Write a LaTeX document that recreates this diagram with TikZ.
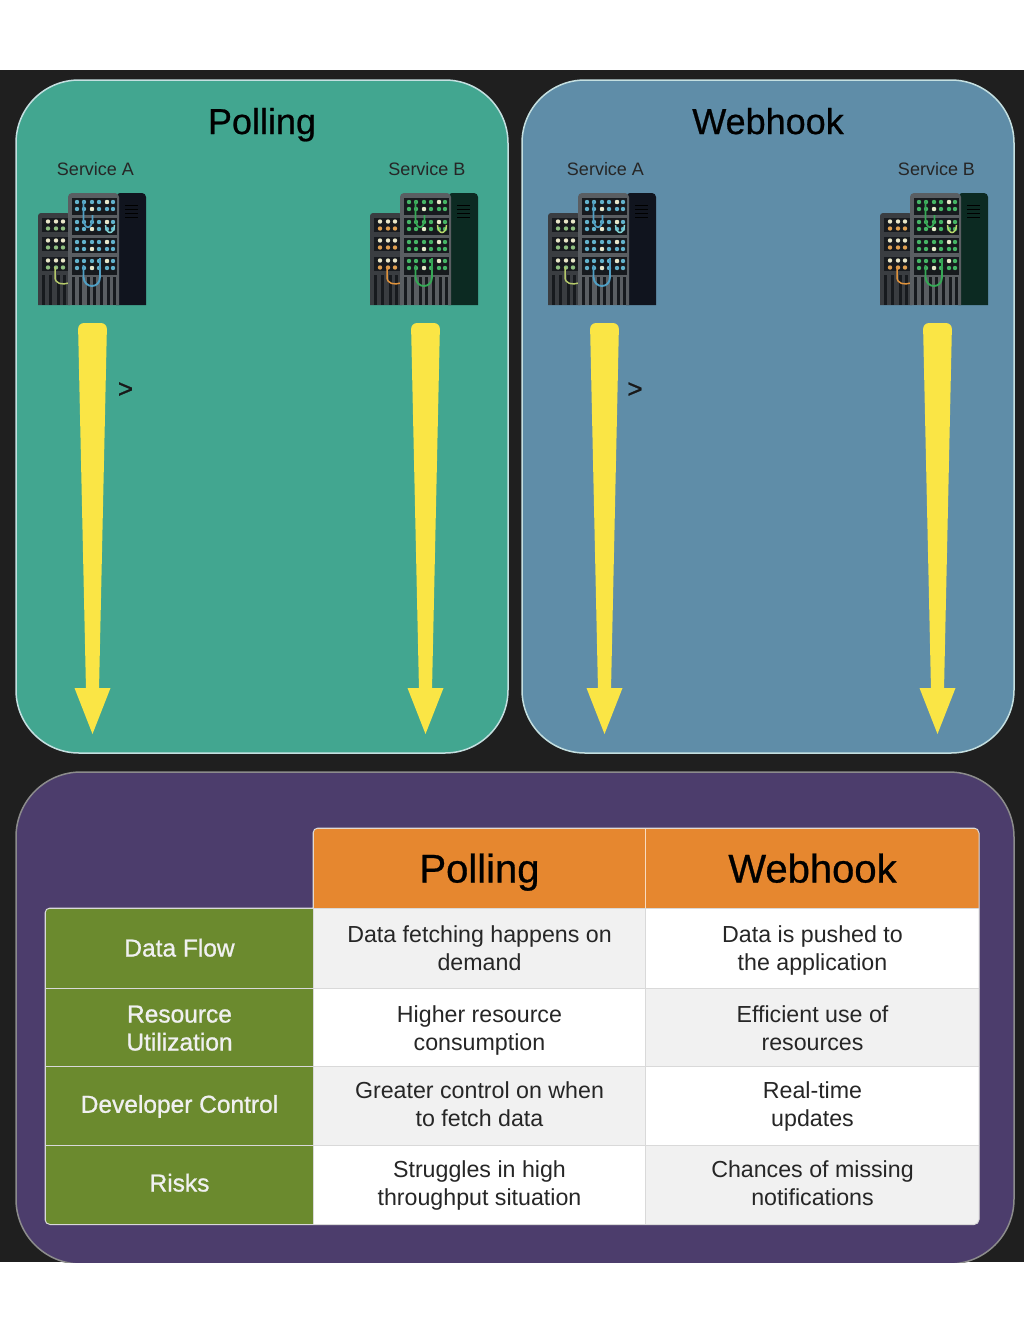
\documentclass[tikz,border=0pt]{standalone}
\usepackage{fontspec}
\setmainfont{Liberation Sans}
\newfontfamily\semibold[FakeBold=1]{Liberation Sans}
\newfontfamily\titleweight[FakeBold=0.7]{Liberation Sans}
\definecolor{bgdark}{HTML}{1F1F1F}
\definecolor{teal1}{HTML}{42A690}
\definecolor{blue1}{HTML}{5F8DA8}
\definecolor{purple1}{HTML}{4C3D6C}
\definecolor{orange1}{HTML}{E6872F}
\definecolor{green1}{HTML}{6B8A2E}
\definecolor{yellow1}{HTML}{FAE545}
\definecolor{cellgray}{HTML}{F1F1F1}
\definecolor{panelline}{HTML}{C4DFE0}
\definecolor{rackmid}{HTML}{5A5E62}
\definecolor{rackleft}{HTML}{3A3D41}
\definecolor{rackslot}{HTML}{171A1E}
\definecolor{ledA}{HTML}{62B2CC}
\definecolor{cableA}{HTML}{4F9FC4}
\definecolor{smallA}{HTML}{7FD0D0}
\definecolor{leftcA}{HTML}{B5C96A}
\definecolor{leftlA}{HTML}{8FBF80}
\definecolor{cabA}{HTML}{10141E}
\definecolor{ledB}{HTML}{45B565}
\definecolor{cableB}{HTML}{35A855}
\definecolor{smallB}{HTML}{B5D66A}
\definecolor{leftcB}{HTML}{E0923C}
\definecolor{leftlB}{HTML}{E0A050}
\definecolor{cabB}{HTML}{0C2A22}
\definecolor{cream}{HTML}{E8E6C8}
\tikzset{
  panel/.style={draw=panelline,line width=1.5pt,rounded corners=63pt},
  bottompanel/.style={draw=black!45,line width=1.5pt,rounded corners=65pt,fill=purple1},
  yarrow/.style={fill=yellow1,draw=none},
  svclabel/.style={font=\fontsize{18}{20}\selectfont,text=black!85,inner sep=0pt,text height=13pt,text depth=0pt},
  paneltitle/.style={font=\fontsize{36}{38}\selectfont\titleweight,text=black,inner sep=0pt,text height=32pt,text depth=8pt},
  gt/.style={font=\fontsize{26}{28}\selectfont\semibold,text=black!90,inner sep=0pt},
  headcell/.style={fill=orange1,draw=white!70!orange1,line width=1pt,minimum height=80pt,inner sep=0pt,font=\fontsize{40}{42}\selectfont\titleweight,text=black,text height=36pt,text depth=8pt},
  rowhead/.style={fill=green1,draw=white!85!black,line width=1pt,minimum width=268pt,inner sep=0pt,align=center,font=\fontsize{24.5}{28}\selectfont\semibold,text=white!94!black},
  cell/.style={draw=black!15,line width=1pt,inner sep=0pt,align=center,font=\fontsize{23.2}{28}\selectfont,text=black!85},
  outline/.style={draw=white!85!black,line width=1pt,rounded corners=5pt},
  pics/server/.style n args={6}{code={
    \fill[#6,rounded corners=4pt] (78,112) -- (78,0) -- (108,0) -- (108,112);
    \foreach \yy in {12,16,20,24}{\draw[black,line width=.8pt] (87,\yy) -- (100,\yy);}
    \fill[rackleft,rounded corners=3pt] (0,112) -- (0,20) -- (32,20) -- (32,112);
    \foreach \yy in {25,44,64}{
      \fill[rackslot] (4,\yy) rectangle (31,\yy+14);
      \foreach \xx in {10,18,25}{
        \fill[cream] (\xx,\yy+3.5) circle (2.2pt);
        \fill[#5] (\xx,\yy+10.5) circle (2.2pt);
      }
    }
    \foreach \xx in {4,11,19,25}{\fill[rackslot] (\xx,82) rectangle (\xx+2.5,112);}
    \draw[#4,line width=1.5pt] (17,74) -- (17,84) .. controls (17,91) and (24,92) .. (31,90);
    \fill[rackmid,rounded corners=4pt] (30,112) -- (30,0) -- (81,0) -- (81,112);
    \foreach \yy/\hh in {5/17,25/17,45/15,64/18}{
      \fill[rackslot] (34,\yy) rectangle (79,\yy+\hh);
      \foreach \xx in {39,46,54,61,69,75}{
        \fill[#1] (\xx,\yy+4) circle (2.2pt);
        \fill[#1] (\xx,\yy+11) circle (2.2pt);
      }
      \fill[cream] (69,\yy+4) circle (2.2pt);
      \fill[cream] (54,\yy+11) circle (2.2pt);
    }
    \foreach \xx in {34,41,49,55,62,69,75}{\fill[rackslot] (\xx,84) rectangle (\xx+2.5,112);}
    \draw[#2,line width=1.7pt] (45.5,8) -- (45.5,26) .. controls (46,37) and (54,37) .. (54.5,26) -- (54.5,22);
    \draw[#3,line width=1.5pt] (67.5,32) .. controls (68,42) and (76,42) .. (76.5,32);
    \draw[#2,line width=1.9pt] (45.5,72) -- (45.5,84) .. controls (46,96) and (62,96) .. (62,84) -- (62,65);
  }},
}
\newcommand{\yellowarrow}[1]{%
  \fill[yarrow,rounded corners=6pt] (#1-6.5,690) -- (#1-14.5,323) -- (#1+14.5,323) -- (#1+6.5,690);
  \fill[yarrow] (#1-18,688) -- (#1+18,688) -- (#1,734) -- cycle;
}
% cell text with a fixed first-line height (#1), so lines land alike with or without descenders
\newcommand{\celltwo}[3]{\rule{0pt}{#1pt}#2\\#3\rule[-6pt]{0pt}{6pt}}
\newcommand{\cellone}[2]{\rule{0pt}{#1pt}\rule[-6pt]{0pt}{6pt}#2}
\begin{document}
\begin{tikzpicture}[x=1pt,y=-1pt]
\useasboundingbox (0,0) rectangle (1024,1331);
\fill[white] (0,0) rectangle (1024,1331);
\fill[bgdark] (0,70) rectangle (1024,1262);
\draw[panel,fill=teal1] (16,80) rectangle (508,753);
\draw[panel,fill=blue1] (522,80) rectangle (1014,753);
\begin{scope}
\clip (0,70) rectangle (1024,1262);
\draw[bottompanel] (16,772) rectangle (1014,1264);
\end{scope}
\node[paneltitle] (t1) at (262,122) {Polling};
\node[paneltitle] (t2) at (768,122) {Webhook};
\node[svclabel] (s1) at (95.5,169) {Service A};
\node[svclabel] (s2) at (427,169) {Service B};
\node[svclabel] (s3) at (605.5,169) {Service A};
\node[svclabel] (s4) at (936.5,169) {Service B};
\pic at (38,193) {server={ledA}{cableA}{smallA}{leftcA}{leftlA}{cabA}};
\pic at (370,193) {server={ledB}{cableB}{smallB}{leftcB}{leftlB}{cabB}};
\pic at (548,193) {server={ledA}{cableA}{smallA}{leftcA}{leftlA}{cabA}};
\pic at (880,193) {server={ledB}{cableB}{smallB}{leftcB}{leftlB}{cabB}};
\yellowarrow{92.5}
\yellowarrow{425.5}
\yellowarrow{604.5}
\yellowarrow{937.5}
\node[gt] (g1) at (125.5,390) {>};
\node[gt] (g2) at (635,390) {>};
% table: everything is cut to the rounded outline
\begin{scope}
\clip[rounded corners=5pt] (313,908) -- (313,828) -- (979,828) -- (979,1224.5) -- (45,1224.5) -- (45,908) -- (313,908);
\node[headcell,minimum width=332pt,anchor=north west] (hp) at (313,828) {Polling};
\node[headcell,minimum width=334pt,anchor=north west] (hw) at (645,828) {Webhook};
\node[rowhead,minimum height=80pt,anchor=north west] (r1) at (45,908) {\cellone{22}{Data Flow}};
\node[rowhead,minimum height=78pt,anchor=north west] (r2) at (45,988) {\celltwo{24}{Resource}{Utilization}};
\node[rowhead,minimum height=78.5pt,anchor=north west] (r3) at (45,1066) {\cellone{20}{Developer Control}};
\node[rowhead,minimum height=80pt,anchor=north west] (r4) at (45,1144.5) {\cellone{19}{Risks}};
\node[cell,minimum width=332pt,fill=cellgray,minimum height=80pt,anchor=north west] (c11) at (313,908) {\celltwo{22}{Data fetching happens on}{demand}};
\node[cell,minimum width=334pt,fill=white,minimum height=80pt,anchor=north west] (c12) at (645,908) {\celltwo{22}{Data is pushed to}{the application}};
\node[cell,minimum width=332pt,fill=white,minimum height=78pt,anchor=north west] (c21) at (313,988) {\celltwo{24}{Higher resource}{consumption}};
\node[cell,minimum width=334pt,fill=cellgray,minimum height=78pt,anchor=north west] (c22) at (645,988) {\celltwo{24}{Efficient use of}{resources}};
\node[cell,minimum width=332pt,fill=cellgray,minimum height=78.5pt,anchor=north west] (c31) at (313,1066) {\celltwo{20}{Greater control on when}{to fetch data}};
\node[cell,minimum width=334pt,fill=white,minimum height=78.5pt,anchor=north west] (c32) at (645,1066) {\celltwo{20}{Real-time}{updates}};
\node[cell,minimum width=332pt,fill=white,minimum height=80pt,anchor=north west] (c41) at (313,1144.5) {\celltwo{19}{Struggles in high}{throughput situation}};
\node[cell,minimum width=334pt,fill=cellgray,minimum height=80pt,anchor=north west] (c42) at (645,1144.5) {\celltwo{19}{Chances of missing}{notifications}};
\end{scope}
\draw[outline] (313,908) -- (313,828) -- (979,828) -- (979,1224.5) -- (45,1224.5) -- (45,908) -- (313,908);
\end{tikzpicture}
\end{document}
